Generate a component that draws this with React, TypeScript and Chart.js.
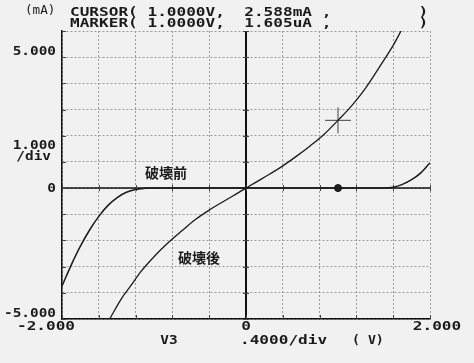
import React, { useEffect, useRef } from 'react';
import { Chart, registerables } from 'chart.js';

Chart.register(...registerables);

// Curve after breakdown (破壊後): voltage (V) and current (mA)
const afterV = [-1.55, -1.45, -1.35, -1.25, -1.15, -1.0, -0.85, -0.7, -0.55, -0.4, -0.25, -0.1, 0, 0.1, 0.25, 0.4, 0.55, 0.7, 0.85, 1.0, 1.15, 1.3, 1.45, 1.6, 1.7];
const afterI = [-5.45, -4.8, -4.2, -3.72, -3.22, -2.62, -2.1, -1.64, -1.2, -0.84, -0.52, -0.21, 0, 0.21, 0.52, 0.85, 1.22, 1.62, 2.06, 2.588, 3.15, 3.82, 4.62, 5.45, 6.1];

// Curve before breakdown (破壊前)
const beforeV = [-2.0, -1.9, -1.8, -1.7, -1.6, -1.5, -1.4, -1.3, -1.2, -1.1, -1.0, -0.5, 0, 0.5, 1.0, 1.5, 1.6, 1.7, 1.8, 1.9, 2.0];
const beforeI = [-3.74, -2.94, -2.22, -1.6, -1.08, -0.66, -0.36, -0.16, -0.05, -0.01, 0, 0, 0, 0, 0, 0, 0.03, 0.14, 0.32, 0.58, 0.97];

// Cursor and marker readouts
const cursorPoint = { x: 1.0, y: 2.588 };
const markerPoint = { x: 1.0, y: 0.001605 };

// Axis settings and labels
const xMin = -2.0;
const xMax = 2.0;
const xStep = 0.4;
const yMin = -5;
const yMax = 6;
const yStep = 1;
const xTickValues = [-2, 0, 2];
const xTickLabels = ['-2.000', '0', '2.000'];
const yTickValues = [5, 0, -5];
const yTickLabels = ['5.000', '0', '-5.000'];
const yUnitLabel = '(mA)';
const yScaleLabel = ['1.000', '/div'];
const xAxisName = 'V3';
const xScaleLabel = '.4000/div';
const xUnitLabel = '( V)';
const cursorLine = 'CURSOR( 1.0000V,  2.588mA ,         )';
const markerLine = 'MARKER( 1.0000V,  1.605uA ,         )';
const beforeLabel = '破壊前';
const afterLabel = '破壊後';

const MONO = 'DejaVu Sans Mono';
const BG = '#f1f1f1';
const INK = '#1a1a1a';

function drawStretched(
  ctx: CanvasRenderingContext2D,
  text: string,
  x: number,
  y: number,
  align: 'left' | 'right' | 'center',
  sx: number,
  font: string,
  baseline: CanvasTextBaseline = 'middle'
) {
  ctx.save();
  ctx.font = font;
  ctx.textBaseline = baseline;
  ctx.textAlign = 'left';
  const w = ctx.measureText(text).width * sx;
  const left = align === 'left' ? x : align === 'right' ? x - w : x - w / 2;
  ctx.translate(left, y);
  ctx.scale(sx, 1);
  ctx.fillStyle = INK;
  ctx.fillText(text, 0, 0);
  ctx.restore();
}

const decorPlugin = {
  id: 'decor',
  beforeDraw(chart: any) {
    const ctx = chart.ctx;
    ctx.save();
    ctx.fillStyle = BG;
    ctx.fillRect(0, 0, chart.width, chart.height);
    ctx.restore();
  },
  beforeDatasetsDraw(chart: any) {
    const { ctx, chartArea, scales } = chart;
    const xs = scales.x;
    const ys = scales.y;
    const x0 = xs.getPixelForValue(0);
    const y0 = ys.getPixelForValue(0);
    ctx.save();
    ctx.strokeStyle = '#111';
    ctx.lineWidth = 2;
    ctx.beginPath();
    ctx.moveTo(x0, chartArea.top);
    ctx.lineTo(x0, chartArea.bottom);
    ctx.stroke();
    ctx.lineWidth = 1.5;
    ctx.beginPath();
    ctx.moveTo(chartArea.left, y0);
    ctx.lineTo(chartArea.right, y0);
    ctx.stroke();

    // small tick marks on the axes
    ctx.strokeStyle = '#444';
    ctx.lineWidth = 1;
    ctx.beginPath();
    for (let v = yMin; v <= yMax; v += yStep) {
      const py = Math.round(ys.getPixelForValue(v)) + 0.5;
      ctx.moveTo(chartArea.left, py);
      ctx.lineTo(chartArea.left + 4, py);
      ctx.moveTo(x0 - 3, py);
      ctx.lineTo(x0 + 3, py);
    }
    for (let k = 0; k <= Math.round((xMax - xMin) / xStep); k++) {
      const px = Math.round(xs.getPixelForValue(xMin + k * xStep)) + 0.5;
      ctx.moveTo(px, chartArea.bottom);
      ctx.lineTo(px, chartArea.bottom - 4);
      ctx.moveTo(px, y0 - 3);
      ctx.lineTo(px, y0 + 3);
    }
    ctx.stroke();
    ctx.restore();
  },
  afterDraw(chart: any) {
    const { ctx, chartArea, scales } = chart;
    const xs = scales.x;
    const ys = scales.y;
    const f12 = `bold 12px "${MONO}"`;

    // Header
    drawStretched(ctx, yUnitLabel, 25, 11, 'left', 1.05, `12px "${MONO}"`);
    drawStretched(ctx, cursorLine, 70, 13, 'left', 1.34, f12);
    drawStretched(ctx, markerLine, 70, 24, 'left', 1.34, f12);

    // Y tick labels
    yTickValues.forEach((v, i) => {
      const py = ys.getPixelForValue(v);
      const dy = v === 0 ? 1 : -5;
      drawStretched(ctx, yTickLabels[i], chartArea.left - 6, py + dy, 'right', 1.2, f12);
    });
    drawStretched(ctx, yScaleLabel[0], chartArea.left - 6, ys.getPixelForValue(1.6), 'right', 1.2, f12);
    drawStretched(ctx, yScaleLabel[1], chartArea.left - 11, ys.getPixelForValue(1.18), 'right', 1.2, f12);

    // X tick labels
    const xOffsets = [-16, 0, 7];
    xTickValues.forEach((v, i) => {
      drawStretched(ctx, xTickLabels[i], xs.getPixelForValue(v) + xOffsets[i], chartArea.bottom + 8, 'center', 1.34, f12);
    });
    drawStretched(ctx, xAxisName, 169, chartArea.bottom + 22, 'center', 1.2, f12);
    drawStretched(ctx, xScaleLabel, 240, chartArea.bottom + 22, 'left', 1.34, f12);
    drawStretched(ctx, xUnitLabel, 352, chartArea.bottom + 22, 'left', 1.1, f12);

    // Curve labels
    ctx.save();
    ctx.font = '600 14px "Noto Sans CJK JP"';
    ctx.fillStyle = INK;
    ctx.textAlign = 'center';
    ctx.textBaseline = 'middle';
    ctx.fillText(beforeLabel, 166, 173);
    ctx.fillText(afterLabel, 199, 258);
    ctx.restore();
  },
};

export default function App() {
  const canvasRef = useRef<HTMLCanvasElement | null>(null);

  useEffect(() => {
    document.body.style.margin = '0';
    document.body.style.background = BG;
    const canvas = canvasRef.current;
    if (!canvas) return;

    const afterData = afterV.map((v, i) => ({ x: v, y: afterI[i] }));
    const beforeData = beforeV.map((v, i) => ({ x: v, y: beforeI[i] }));

    const chart = new Chart(canvas, {
      type: 'scatter',
      data: {
        datasets: [
          {
            label: afterLabel,
            data: afterData,
            showLine: true,
            borderColor: INK,
            borderWidth: 1.3,
            pointRadius: 0,
            cubicInterpolationMode: 'monotone',
          },
          {
            label: beforeLabel,
            data: beforeData,
            showLine: true,
            borderColor: INK,
            borderWidth: 1.5,
            pointRadius: 0,
            cubicInterpolationMode: 'monotone',
          },
          {
            label: 'CURSOR',
            data: [cursorPoint],
            pointStyle: 'cross',
            pointRadius: 13,
            borderColor: '#444',
            borderWidth: 1,
          },
          {
            label: 'MARKER',
            data: [markerPoint],
            pointStyle: 'circle',
            pointRadius: 3.5,
            backgroundColor: '#222',
            borderColor: '#111',
            borderWidth: 1,
          },
        ],
      } as any,
      options: {
        responsive: false,
        animation: false,
        devicePixelRatio: 1,
        layout: { padding: { top: 31, right: 44, left: 0, bottom: 0 } },
        plugins: {
          legend: { display: false },
          tooltip: { enabled: false },
          title: { display: false },
        },
        scales: {
          x: {
            type: 'linear',
            min: xMin,
            max: xMax,
            ticks: { stepSize: xStep, display: false },
            grid: { color: '#9a9a9a', lineWidth: 1, drawTicks: false },
            border: { display: true, color: '#111', width: 1.5, dash: [2, 2] },
            afterFit: (s: any) => {
              s.height = 44;
            },
          },
          y: {
            type: 'linear',
            min: yMin,
            max: yMax,
            ticks: { stepSize: yStep, display: false },
            grid: { color: '#9a9a9a', lineWidth: 1, drawTicks: false },
            border: { display: true, color: '#111', width: 1.5, dash: [2, 2] },
            afterFit: (s: any) => {
              s.width = 62;
            },
          },
        },
      } as any,
      plugins: [decorPlugin],
    });

    return () => chart.destroy();
  }, []);

  return (
    <div style={{ width: 474, height: 363, background: BG }}>
      <canvas ref={canvasRef} width={474} height={363} style={{ display: 'block' }} />
    </div>
  );
}
